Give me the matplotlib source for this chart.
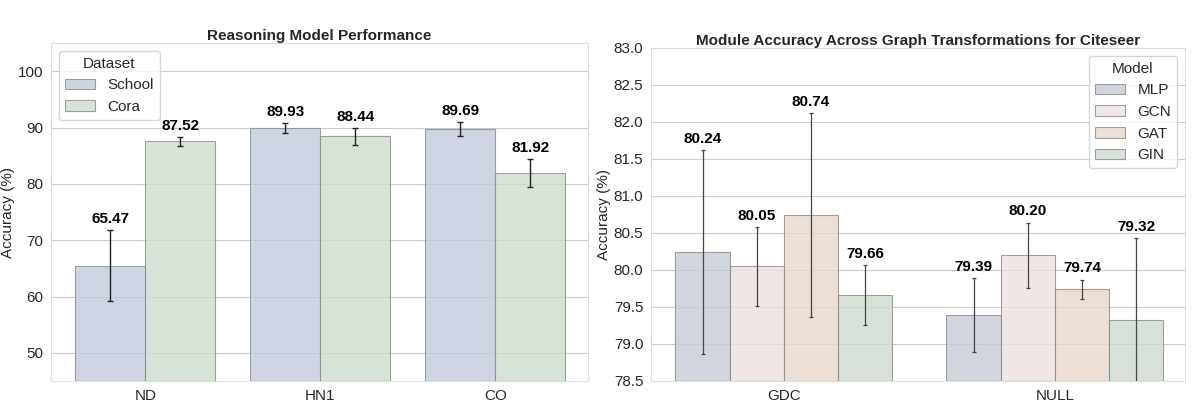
import numpy as np
import matplotlib
matplotlib.use('Agg')
import matplotlib.pyplot as plt
import seaborn as sns

sns.set_style('whitegrid')
plt.rcParams['font.family'] = ['Liberation Sans', 'DejaVu Sans']

# left panel data
tasks = ['ND', 'HN1', 'CO']
datasets = ['School', 'Cora']
school_acc = [65.47, 89.93, 89.69]
school_err = [6.3, 0.9, 1.25]
cora_acc = [87.52, 88.44, 81.92]
cora_err = [0.8, 1.5, 2.5]

# right panel data
transforms = ['GDC', 'NULL']
models = ['MLP', 'GCN', 'GAT', 'GIN']
model_acc = {
    'MLP': [80.24, 79.39],
    'GCN': [80.05, 80.20],
    'GAT': [80.74, 79.74],
    'GIN': [79.66, 79.32],
}
model_err = {
    'MLP': [1.38, 0.50],
    'GCN': [0.53, 0.44],
    'GAT': [1.38, 0.13],
    'GIN': [0.41, 1.11],
}

left_colors = ['#c3cadb', '#cddccd']
right_colors = ['#c6cbd6', '#ede0e0', '#e8d8cb', '#cfdacf']

fig = plt.figure(figsize=(11.96, 4.05), dpi=100)
ax1 = fig.add_axes([51 / 1196, 24 / 405, 537 / 1196, 338 / 405])
ax2 = fig.add_axes([651 / 1196, 24 / 405, 534 / 1196, 333 / 405])


def draw_group(ax, x, vals, errs, colors, labels, width, capsize, ecolor, elw, ymin):
    n = len(vals)
    for i in range(n):
        pos = x + (i - (n - 1) / 2) * width
        ax.bar(pos, np.array(vals[i]) - ymin, width, bottom=ymin, color=colors[i],
               alpha=0.8, edgecolor='#8a8a8a', linewidth=0.8, label=labels[i], zorder=2)
        ax.errorbar(pos, vals[i], yerr=errs[i], fmt='none', ecolor=ecolor,
                    elinewidth=elw, capsize=capsize, capthick=elw, zorder=3)
        for p, v, e in zip(pos, vals[i], errs[i]):
            ax.annotate(f'{v:.2f}', (p, v + e), xytext=(0, 3), textcoords='offset points',
                        ha='center', va='bottom', fontsize=11, fontweight='bold',
                        color='black', zorder=4)


x1 = np.arange(len(tasks))
draw_group(ax1, x1, [school_acc, cora_acc], [school_err, cora_err], left_colors,
           datasets, 0.4, 2.5, '#222222', 1.0, 45)
ax1.set_xlim(-0.54, 2.53)
ax1.set_ylim(45, 105)
ax1.set_yticks([50, 60, 70, 80, 90, 100])
ax1.set_xticks(x1)
ax1.set_xticklabels(tasks)
ax1.set_ylabel('Accuracy (%)', fontsize=11, labelpad=2)
ax1.set_title('Reasoning Model Performance', fontsize=11, fontweight='bold', pad=2)
ax1.legend(title='Dataset', loc='upper left', fontsize=11, title_fontsize=11, frameon=True)
ax1.grid(axis='x', visible=False)

x2 = np.arange(len(transforms))
draw_group(ax2, x2, [model_acc[m] for m in models], [model_err[m] for m in models],
           right_colors, models, 0.2, 1.5, '#444444', 0.9, 78.5)
ax2.set_xlim(-0.49, 1.48)
ax2.set_ylim(78.5, 83.0)
ax2.set_yticks(np.arange(78.5, 83.01, 0.5))
ax2.yaxis.set_major_formatter(matplotlib.ticker.FormatStrFormatter('%.1f'))
ax2.set_xticks(x2)
ax2.set_xticklabels(transforms)
ax2.set_ylabel('Accuracy (%)', fontsize=11, labelpad=2)
ax2.set_title('Module Accuracy Across Graph Transformations for Citeseer', fontsize=11,
              fontweight='bold', pad=2)
ax2.legend(title='Model', loc='upper right', fontsize=11, title_fontsize=11, frameon=True)
ax2.grid(axis='x', visible=False)

for ax in (ax1, ax2):
    ax.tick_params(axis='both', labelsize=11, pad=2)
    for s in ax.spines.values():
        s.set_color('#dddddd')

fig.savefig('out.png', dpi=100)
